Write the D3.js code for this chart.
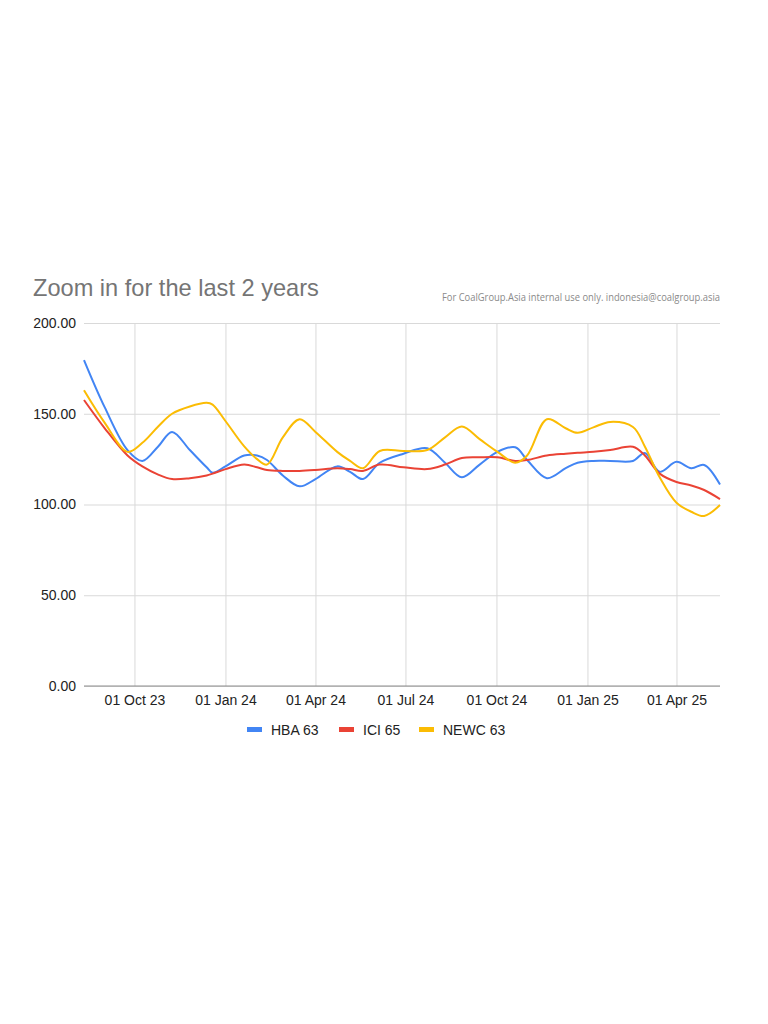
<!DOCTYPE html>
<html>
<head>
<meta charset="utf-8">
<script src="https://cdn.jsdelivr.net/npm/d3@7"></script>
<style>
  html, body { margin: 0; padding: 0; background: #fff; }
  svg { display: block; }
</style>
</head>
<body>
<svg id="chart" width="768" height="1024"></svg>
<script>
// ---- Data ----
const dates = [
  "2023-08-11","2023-09-01","2023-09-24","2023-10-09","2023-10-25","2023-11-08","2023-11-26",
  "2023-12-13","2023-12-19","2024-01-01","2024-01-20","2024-02-02","2024-02-12","2024-02-28",
  "2024-03-16","2024-04-01","2024-04-23","2024-05-06","2024-05-19","2024-06-05","2024-06-29",
  "2024-07-23","2024-08-10","2024-08-27","2024-09-14","2024-10-02","2024-10-20","2024-11-01",
  "2024-11-21","2024-12-10","2024-12-22","2025-01-07","2025-01-24","2025-02-16","2025-02-28",
  "2025-03-15","2025-04-01","2025-04-16","2025-04-29","2025-05-15"
];
const hba63 = [
  179.6,153.5,130,124,132,140,130,
  120.5,117.5,121,127,127,124.5,116,
  110,114,121,118,114,123,128,
  131,123,115,122,129,131.5,124.5,
  114.5,120,123,124,124,124,128.4,
  118,123.5,120,121.8,111
];
const ici65 = [
  157.6,142,127,121,116.5,114,114.5,
  116,117,119.5,122,120.5,119,118.5,
  118.5,119,120,119.5,118.5,122,120.5,
  119.5,122,125.6,126,126,124,124.5,
  127,128,128.5,129,130,131.8,127,
  117,112.4,110.5,108,103
];
const newc63 = [
  163,145,129,134,143,150,154,
  156,155,146,132,125,122,137,
  147,140,129,124,120,129.5,129.5,
  130,137,143,136,129,123,127,
  147,142,139.5,142.5,145.5,142.7,132,
  115,101,96,93.7,99.7
];
const seriesNames = ["HBA 63", "ICI 65", "NEWC 63"];
const seriesColors = ["#4285F4", "#EA4335", "#FBBC04"];
const yTicks = [0, 50, 100, 150, 200];
const xTickDates = ["2023-10-01","2024-01-01","2024-04-01","2024-07-01","2024-10-01","2025-01-01","2025-04-01"];
const titleText = "Zoom in for the last 2 years";
const noteText = "For CoalGroup.Asia internal use only. indonesia@coalgroup.asia";

// ---- Layout ----
const parse = d3.utcParse("%Y-%m-%d");
const svg = d3.select("#chart");
const plotL = 84, plotR = 720, plotT = 323, plotB = 686;
const font = "'Liberation Sans', Arial, sans-serif";

const x = d3.scaleUtc()
  .domain([parse(dates[0]), parse(dates[dates.length - 1])])
  .range([plotL, plotR]);
const y = d3.scaleLinear().domain([0, 200]).range([plotB, plotT]);

svg.append("rect").attr("width", 768).attr("height", 1024).attr("fill", "#fff");

// Title
svg.append("text")
  .attr("x", 33).attr("y", 296)
  .attr("font-family", font).attr("font-size", 23.6)
  .attr("fill", "#757575")
  .text(titleText);

// Note
svg.append("text")
  .attr("x", 720).attr("y", 301)
  .attr("text-anchor", "end")
  .attr("font-family", "'Open Sans', sans-serif").attr("font-size", 10.5)
  .attr("fill", "#8a8a8a")
  .attr("textLength", 278).attr("lengthAdjust", "spacingAndGlyphs")
  .text(noteText);

// Horizontal grid + y labels
const yAxis = d3.axisLeft(y).tickValues(yTicks).tickFormat(d3.format(".2f"))
  .tickSize(-(plotR - plotL)).tickPadding(8);
const gy = svg.append("g").attr("transform", `translate(${plotL},0)`).call(yAxis);
gy.select(".domain").remove();
gy.selectAll(".tick line").attr("stroke", "#d9d9d9").attr("stroke-width", 1);
gy.selectAll(".tick text").attr("font-family", font).attr("font-size", 14).attr("fill", "#222");

// Vertical grid + x labels
const xAxis = d3.axisBottom(x).tickValues(xTickDates.map(parse))
  .tickFormat(d3.utcFormat("%d %b %y"))
  .tickSize(-(plotB - plotT)).tickPadding(9);
const gx = svg.append("g").attr("transform", `translate(0,${plotB})`).call(xAxis);
gx.select(".domain").remove();
gx.selectAll(".tick line").attr("stroke", "#d9d9d9").attr("stroke-width", 1);
gx.selectAll(".tick text").attr("font-family", font).attr("font-size", 14).attr("fill", "#222");

// Baseline
svg.append("line")
  .attr("x1", plotL).attr("x2", plotR)
  .attr("y1", y(0)).attr("y2", y(0))
  .attr("stroke", "#8c8c8c").attr("stroke-width", 1);

// Lines
const allSeries = [hba63, ici65, newc63];
const line = d3.line()
  .x((d, i) => x(parse(dates[i])))
  .y(d => y(d))
  .curve(d3.curveCatmullRom.alpha(0.5));
allSeries.forEach((vals, k) => {
  svg.append("path")
    .datum(vals)
    .attr("fill", "none")
    .attr("stroke", seriesColors[k])
    .attr("stroke-width", 2)
    .attr("stroke-linejoin", "round")
    .attr("d", line);
});

// Legend
const legendX = [247, 339, 419];
const lg = svg.append("g");
seriesNames.forEach((name, k) => {
  lg.append("rect")
    .attr("x", legendX[k]).attr("y", 727)
    .attr("width", 15).attr("height", 5)
    .attr("fill", seriesColors[k]);
  lg.append("text")
    .attr("x", legendX[k] + 24).attr("y", 734.5)
    .attr("font-family", font).attr("font-size", 14).attr("fill", "#222")
    .text(name);
});
</script>
</body>
</html>
